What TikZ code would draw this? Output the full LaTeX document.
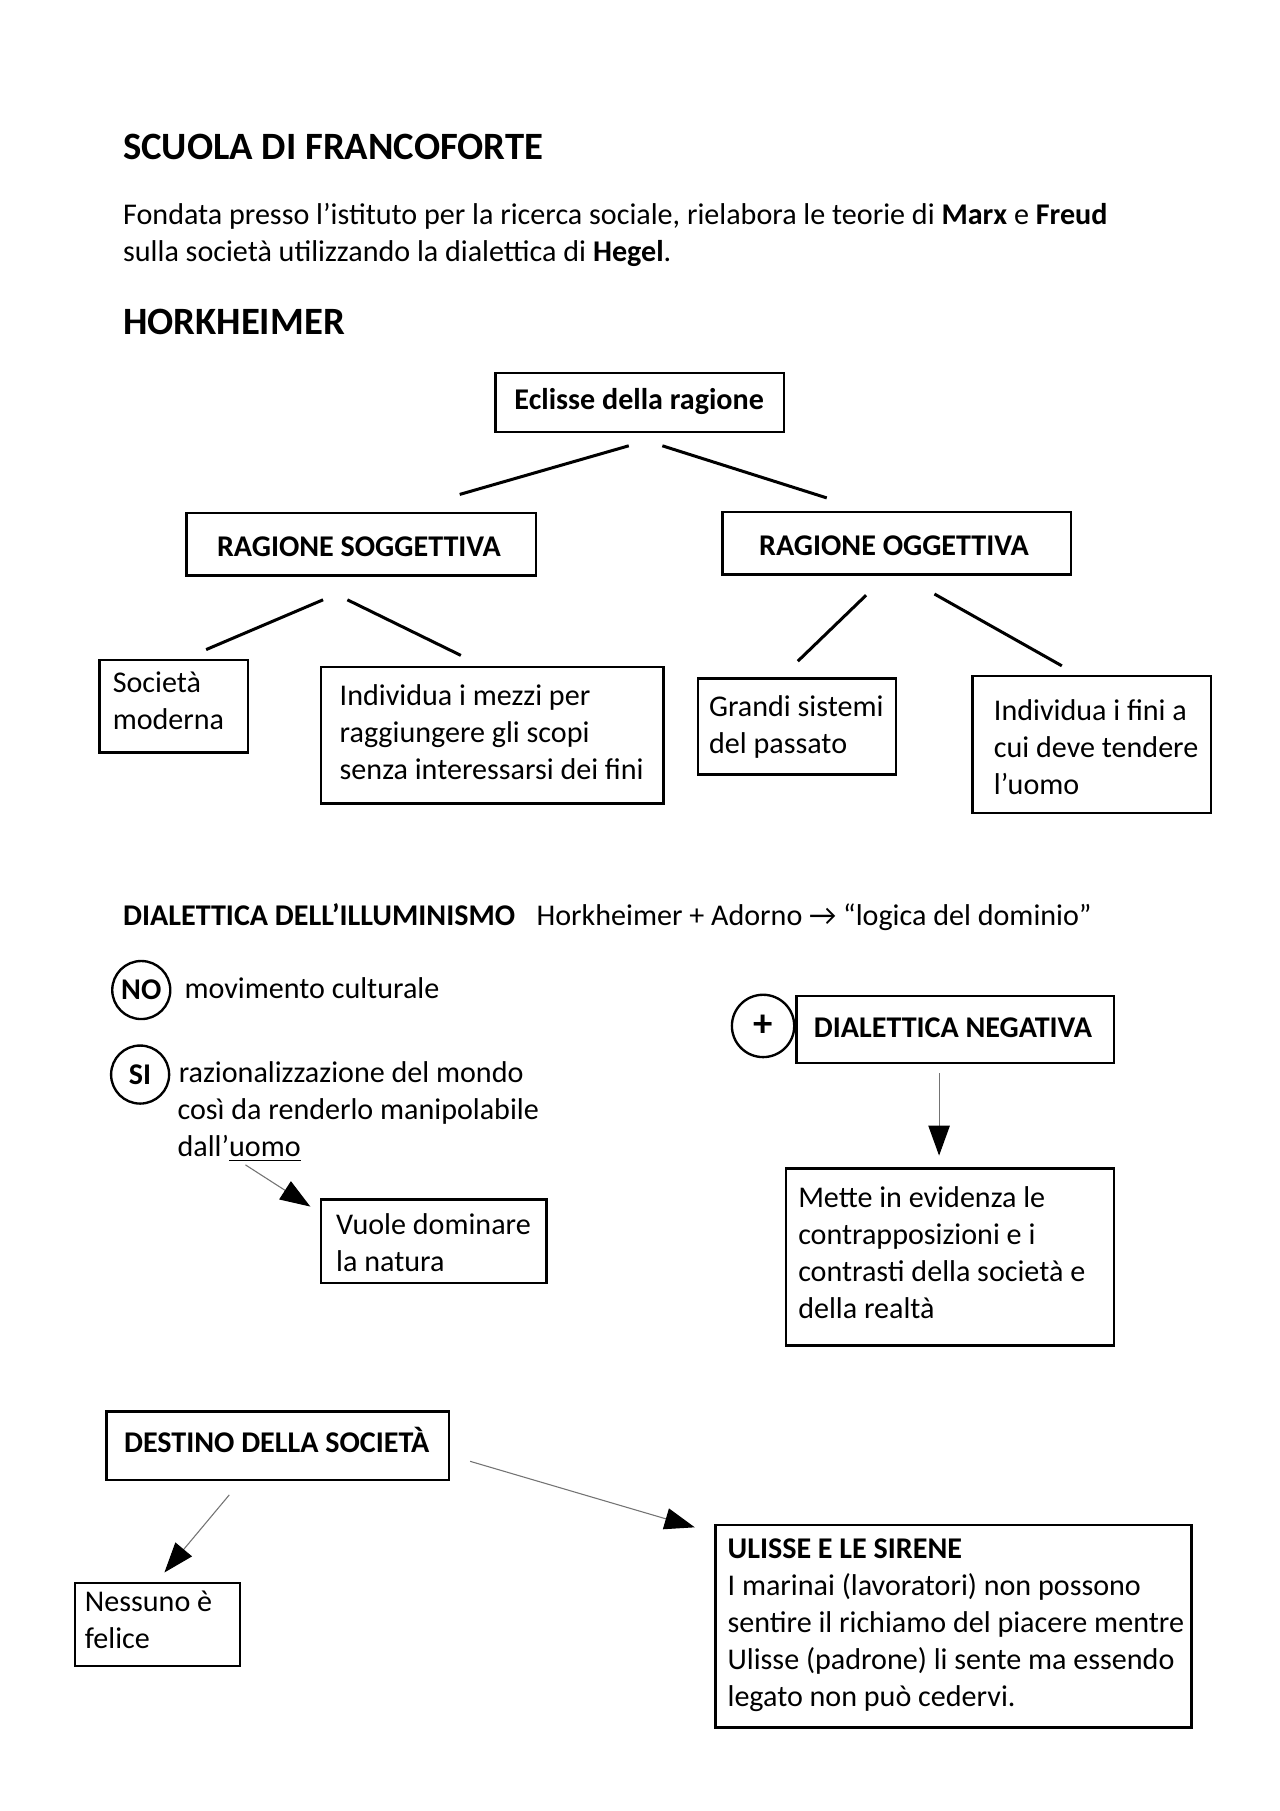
\documentclass[tikz,border=0pt]{standalone}
\usepackage{fontspec}
\setmainfont{Carlito}
\usetikzlibrary{arrows.meta,fit}
\begin{document}
\begin{tikzpicture}[x=0.5387pt,y=-0.5387pt,
  box/.style={draw,line width=1.1pt,inner sep=0pt,rectangle},
  txt/.style={anchor=base west,inner sep=0pt,align=left,font=\fontsize{14}{17.2}\selectfont},
  btxt/.style={txt,font=\fontsize{14}{17.2}\selectfont\bfseries},
  ctxt/.style={btxt,anchor=base},
  head/.style={anchor=base west,inner sep=0pt,font=\fontsize{18}{22}\selectfont\bfseries},
  tree/.style={line width=1.4pt},
  arr/.style={draw=black!55,line width=0.5pt,-{Triangle[length=14pt,width=10pt,color=black]}},
  circ/.style={draw,circle,line width=1.1pt,inner sep=0pt,font=\fontsize{14}{16}\selectfont\bfseries}]
\useasboundingbox (0,0) rectangle (1105,1564);
% headings
\node[head] (t1) at (106,138) {SCUOLA DI FRANCOFORTE};
\node[txt] (p1) at (106,226) {Fondata presso l’istituto per la ricerca sociale, rielabora le teorie di \textbf{Marx} e \textbf{Freud}\\sulla società utilizzando la dialettica di \textbf{Hegel}.};
\node[head] (t2) at (106,289) {HORKHEIMER};
% tree
\node[box,fit={(428,322)(677,373)}] (ecl) {};
\node[ctxt] (eclt) at (552,354) {Eclisse della ragione};
\node[box,fit={(161,443)(463,497)}] (rs) {};
\node[ctxt] (rst) at (310,481) {RAGIONE SOGGETTIVA};
\node[box,fit={(624,442)(925,496)}] (ro) {};
\node[ctxt] (rot) at (772,480) {RAGIONE OGGETTIVA};
\node[box,fit={(86,570)(214,650)}] (sm) {};
\node[txt] (smt) at (97,630) {Società\\moderna};
\node[box,fit={(277,576)(573,694)}] (im) {};
\node[txt] (imt) at (293,673) {Individua i mezzi per\\raggiungere gli scopi\\senza interessarsi dei fini};
\node[box,fit={(603,586)(774,669)}] (gs) {};
\node[txt] (gst) at (612,651) {Grandi sistemi\\del passato};
\node[box,fit={(840,584)(1046,702)}] (if) {};
\node[txt] (ift) at (858,686) {Individua i fini a\\cui deve tendere\\l’uomo};
\coordinate (a1) at (543,385); \coordinate (a2) at (397,427);
\coordinate (b1) at (572,385); \coordinate (b2) at (714,430);
\coordinate (c1) at (279,518); \coordinate (c2) at (178,561);
\coordinate (d1) at (300,518); \coordinate (d2) at (398,566);
\coordinate (e1) at (748,514); \coordinate (e2) at (689,571);
\coordinate (f1) at (807,513); \coordinate (f2) at (917,575);
\draw[tree] (a1) -- (a2);
\draw[tree] (b1) -- (b2);
\draw[tree] (c1) -- (c2);
\draw[tree] (d1) -- (d2);
\draw[tree] (e1) -- (e2);
\draw[tree] (f1) -- (f2);
% dialettica illuminismo
\node[btxt] (t3) at (106,799) {DIALETTICA DELL’ILLUMINISMO};
\node[txt] (t3b) at (463,799) {Horkheimer + Adorno → “logica del dominio”};
\node[circ,minimum size=27pt] (no) at (122,855) {NO};
\node[txt] (not) at (159,862) {movimento culturale};
\node[circ,minimum size=27pt] (si) at (121,928) {SI};
\node[txt] (sit1) at (154,935) {razionalizzazione del mondo};
\node[txt] (sit2) at (153,999) {così da renderlo manipolabile\\dall’\underline{uomo}};
\node[box,fit={(277,1036)(472,1108)}] (vd) {};
\node[txt] (vdt) at (290,1098) {Vuole dominare\\la natura};
\coordinate (g1) at (212,1006); \coordinate (g2) at (268,1042);
\draw[arr] (g1) -- (g2);
\node[circ,minimum size=29pt] (plus) at (659,886) {\fontsize{18}{18}\selectfont +};
\node[box,fit={(688,860)(962,918)}] (dn) {};
\node[ctxt] (dnt) at (823,896) {DIALETTICA NEGATIVA};
\node[box,fit={(679,1009)(962,1162)}] (me) {};
\node[txt] (met) at (689,1139) {Mette in evidenza le\\contrapposizioni e i\\contrasti della società e\\della realtà};
\coordinate (h1) at (811,927); \coordinate (h2) at (811,998);
\draw[arr] (h1) -- (h2);
% destino
\node[box,fit={(92,1219)(388,1278)}] (ds) {};
\node[ctxt] (dst) at (239,1254) {DESTINO DELLA SOCIETÀ};
\node[box,fit={(65,1367)(207,1439)}] (nf) {};
\node[txt] (nft) at (73,1424) {Nessuno è\\felice};
\node[box,fit={(618,1317)(1029,1492)}] (ul) {};
\node[txt] (ult) at (628,1474) {\textbf{ULISSE E LE SIRENE}\\I marinai (lavoratori) non possono\\sentire il richiamo del piacere mentre\\Ulisse (padrone) li sente ma essendo\\legato non può cedervi.};
\coordinate (i1) at (198,1291); \coordinate (i2) at (142,1358);
\coordinate (j1) at (406,1262); \coordinate (j2) at (600,1319);
\draw[arr] (i1) -- (i2);
\draw[arr] (j1) -- (j2);
\end{tikzpicture}
\end{document}
